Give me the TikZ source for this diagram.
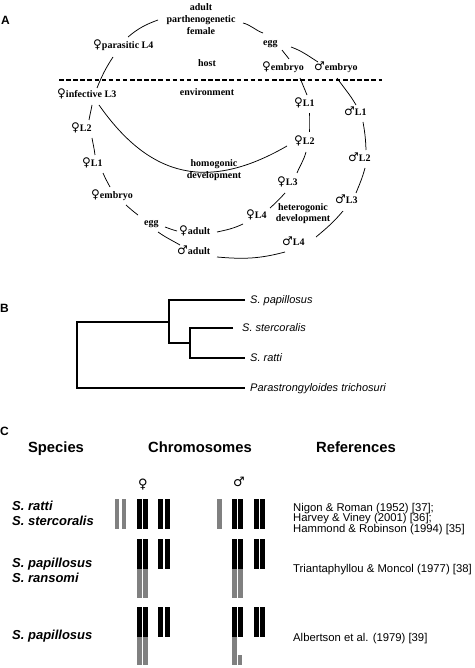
\documentclass[tikz,border=0pt]{standalone}
\usepackage{fontspec}
\setmainfont{Liberation Serif}
\setsansfont{Liberation Sans}
\newfontfamily\symfam{DejaVu Sans}
\newcommand{\Fsym}{{\symfam\bfseries\fontsize{12}{12}\selectfont ♀}}
\newcommand{\Msym}{{\symfam\bfseries\fontsize{12}{12}\selectfont ♂}}
\newcommand{\labfont}{\fontsize{10}{12}\selectfont\bfseries}
\definecolor{chromgray}{RGB}{128,128,128}
\begin{document}
\begin{tikzpicture}[x=1pt,y=1pt,
  lab/.style={font=\labfont, inner sep=0pt, text height=7pt, text depth=2pt, anchor=west},
  clab/.style={font=\labfont, inner sep=0pt, text height=7pt, text depth=2pt},
  mlab/.style={font=\labfont, inner sep=0pt, align=center},
  cyc/.style={line width=0.75pt},
  hostline/.style={line width=1.2pt, dash pattern=on 4.5pt off 2.6pt},
  panlab/.style={font=\sffamily\bfseries\fontsize{12}{12}\selectfont, inner sep=0pt, anchor=base west},
  tree/.style={line width=2.9pt, line join=miter},
  tlab/.style={font=\sffamily\itshape\fontsize{11}{13}\selectfont, inner sep=0pt, text height=8pt, text depth=2pt, anchor=west},
  head/.style={font=\sffamily\bfseries\fontsize{14.8}{16}\selectfont, inner sep=0pt, anchor=base},
  spec/.style={font=\sffamily\bfseries\itshape\fontsize{13}{15}\selectfont, inner sep=0pt, anchor=base west},
  ref/.style={font=\sffamily\fontsize{11.3}{13}\selectfont, inner sep=0pt, anchor=base west},
  sexs/.style={font=\symfam\bfseries\fontsize{13}{13}\selectfont, inner sep=0pt},
  blk/.style={fill=black},
  gry/.style={fill=chromgray}
]
\useasboundingbox (0,0) rectangle (474,-668);

% ---------------- Panel A ----------------
\node[panlab] (pA) at (1,-25) {A};
\node[mlab] (pf) at (201,-19) {adult\\parthenogenetic\\female};
\node[lab] (pL4) at (93,-46) {\Fsym parasitic L4};
\node[clab] (host) at (207,-64) {host};
\node[clab] (env) at (207,-93) {environment};
\node[lab] (iL3) at (57,-95) {\Fsym infective L3};
\node[lab] (fL2a) at (71,-129) {\Fsym L2};
\node[lab] (fL1a) at (82,-164) {\Fsym L1};
\node[lab] (femb) at (91,-196) {\Fsym embryo};
\node[lab] (egg2) at (144,-223) {egg};
\node[lab] (fad) at (179,-232) {\Fsym adult};
\node[lab] (mad) at (177,-252) {\Msym adult};
\node[lab] (egg1) at (263,-43) {egg};
\node[lab] (femb1) at (262,-68) {\Fsym embryo};
\node[lab] (memb) at (314,-68) {\Msym embryo};
\node[lab] (fL1) at (294,-104) {\Fsym L1};
\node[lab] (mL1) at (344,-113) {\Msym L1};
\node[lab] (fL2) at (294,-142) {\Fsym L2};
\node[lab] (mL2) at (348,-159) {\Msym L2};
\node[lab] (fL3) at (277,-183) {\Fsym L3};
\node[lab] (mL3) at (335,-201) {\Msym L3};
\node[lab] (fL4) at (246,-216) {\Fsym L4};
\node[lab] (mL4) at (282,-243) {\Msym L4};
\node[mlab] (hom) at (214,-170) {homogonic\\development};
\node[mlab, font=\fontsize{10}{11}\selectfont\bfseries] (het) at (303,-213.5) {heterogonic\\development};

\coordinate (dl) at (59,-80);
\coordinate (dr) at (382,-80);
\draw[hostline] (dl) -- (dr);

% outer cycle
\draw[cyc] ([shift={(-43,-1)}]pf.center) to[out=200,in=40] ([shift={(35,9)}]pL4.west);
\draw[cyc] ([shift={(20,-11)}]pL4.west) to[out=237,in=68] ([shift={(40,7)}]iL3.west);
\draw[cyc] ([shift={(35,-10)}]iL3.west) to[out=260,in=80] ([shift={(18,9)}]fL2a.west);
\draw[cyc] ([shift={(21,-9)}]fL2a.west) to[out=280,in=97] ([shift={(13,9)}]fL1a.west);
\draw[cyc] ([shift={(21,-9)}]fL1a.west) to[out=293,in=118] ([shift={(19,9)}]femb.west);
\draw[cyc] ([shift={(35,-9)}]femb.west) to[out=318,in=143] ([shift={(-6,8)}]egg2.west);
\draw[cyc] ([shift={(14,-9)}]egg2.west) to[out=325,in=150] ([shift={(3,7)}]mad.west);
\draw[cyc] ([shift={(40,-5)}]mad.west) to[out=-5,in=195] ([shift={(3,-9)}]mL4.west);
\draw[cyc] ([shift={(34,6)}]mL4.west) to[out=40,in=230] ([shift={(8,-10)}]mL3.west);
\draw[cyc] ([shift={(21,8)}]mL3.west) to[out=68,in=255] ([shift={(17,-9)}]mL2.west);
\draw[cyc] ([shift={(18,9)}]mL2.west) to[out=92,in=280] ([shift={(19,-9)}]mL1.west);
\draw[cyc] ([shift={(12,8)}]mL1.west) to[out=120,in=305] ([shift={(23,-10)}]memb.west);
\draw[cyc] ([shift={(4,6)}]memb.west) to[out=148,in=340] ([shift={(28,-4)}]egg1.west);
\draw[cyc] ([shift={(0,10)}]egg1.west) to[out=160,in=-15] ([shift={(42,-4)}]pf.center);
% heterogonic female
\draw[cyc] ([shift={(19,-7)}]egg1.west) to[out=305,in=125] ([shift={(27,9)}]femb1.west);
\draw[cyc] ([shift={(38,-10)}]femb1.west) to[out=292,in=112] ([shift={(13,9)}]fL1.west);
\draw[cyc] ([shift={(15,-9)}]fL1.west) to[out=270,in=90] ([shift={(15,10)}]fL2.west);
\draw[cyc] ([shift={(12,-10)}]fL2.west) to[out=255,in=68] ([shift={(20,10)}]fL3.west);
\draw[cyc] ([shift={(8,-10)}]fL3.west) to[out=228,in=42] ([shift={(24,8)}]fL4.west);
\draw[cyc] ([shift={(-3,-8)}]fL4.west) to[out=205,in=12] ([shift={(38,0)}]fad.west);
\draw[cyc] ([shift={(-2,1)}]fad.west) to[out=165,in=340] ([shift={(21,-4)}]egg2.west);
% homogonic
\draw[cyc] ([shift={(42,-10)}]iL3.west) to[out=305,in=210,looseness=1.2] ([shift={(-7,-4)}]fL2.west);

% ---------------- Panel B ----------------
\node[panlab] (pB) at (0,-312) {B};
\node[tlab] (pap) at (250,-300) {S. papillosus};
\node[tlab] (ster) at (242,-328) {S. stercoralis};
\node[tlab] (rat) at (250,-358) {S. ratti};
\node[tlab] (para) at (250,-388) {Parastrongyloides trichosuri};
\coordinate (n1) at (169,-322);
\coordinate (n1b) at (169,-343);
\coordinate (n2) at (190,-343);
\coordinate (n2b) at (190,-358);
\coordinate (r0) at (77,-388);
\draw[tree] ([xshift=-5pt]pap.west) -| (n1b) -- (n2);
\draw[tree] ([xshift=-9pt]ster.west) -| (n2b) -- ([xshift=-5pt]rat.west);
\draw[tree] (n1) -| (r0) -- ([xshift=-5pt]para.west);

% ---------------- Panel C ----------------
\node[panlab] (pC) at (0,-435) {C};
\node[head] (hsp) at (56,-452) {Species};
\node[head] (hch) at (200,-452) {Chromosomes};
\node[head] (hre) at (356,-452) {References};
\node[sexs] (fs) at (143,-485) {♀};
\node[sexs] (ms) at (239,-482) {♂};

\node[spec] (s1) at (12,-510) {S. ratti};
\node[spec] (s2) at (12,-525) {S. stercoralis};
\node[spec] (s3) at (12,-567) {S. papillosus};
\node[spec] (s4) at (12,-582) {S. ransomi};
\node[spec] (s5) at (12,-639.5) {S. papillosus};

\node[ref] (r1) at (293,-511) {Nigon \& Roman (1952) [37];};
\node[ref] (r2) at (293,-521.5) {Harvey \& Viney (2001) [36];};
\node[ref] (r3) at (293,-532) {Hammond \& Robinson (1994) [35]};
\node[ref] (r4) at (293,-572) {Triantaphyllou \& Moncol (1977) [38]};
\node[ref] (r5) at (293,-641.5) {Albertson et al. (1979) [39]};

% female chromosomes
\fill[gry] (115,-499) rectangle (119,-529);
\fill[gry] (121.7,-499) rectangle (125.7,-529);
\foreach \a in {136.5,143,158,164.5}{
  \fill[blk] (\a,-499) rectangle (\a+5,-529);
  \fill[blk] (\a,-539) rectangle (\a+5,-569);
  \fill[blk] (\a,-607) rectangle (\a+5,-637);
}
\foreach \a in {136.5,143}{
  \fill[gry] (\a,-569) rectangle (\a+5,-598);
  \fill[gry] (\a,-637) rectangle (\a+5,-665);
}
% male chromosomes
\fill[gry] (217.3,-499) rectangle (221.7,-529);
\foreach \a in {231.7,238,253.5,260}{
  \fill[blk] (\a,-499) rectangle (\a+5,-529);
  \fill[blk] (\a,-539) rectangle (\a+5,-569);
  \fill[blk] (\a,-607) rectangle (\a+5,-637);
}
\foreach \a in {231.7,238}{
  \fill[gry] (\a,-569) rectangle (\a+5,-598);
}
\fill[gry] (231.7,-637) rectangle (236.7,-665);
\fill[gry] (238.3,-655) rectangle (242,-665);
\end{tikzpicture}
\end{document}
